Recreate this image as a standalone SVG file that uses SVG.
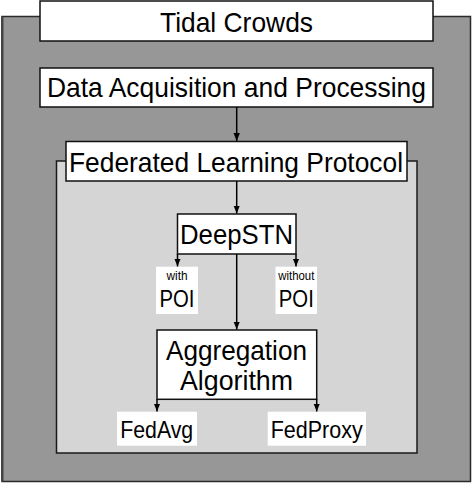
<svg xmlns="http://www.w3.org/2000/svg" width="474" height="488" viewBox="0 0 474 488">
<defs>
<style>
.box{fill:#fff;stroke:#111;stroke-width:1.5}
.lab{fill:#fff;stroke:none}
.t{font-family:"Liberation Sans",Arial,sans-serif;fill:#000;text-anchor:middle}
.big{font-size:28px}
.mid{font-size:24px}
.sm{font-size:12px}
.c{stroke:#000;stroke-width:1.5;fill:none}
</style>
<marker id="ah" viewBox="0 0 8 8" refX="8" refY="4" markerWidth="8" markerHeight="8" markerUnits="userSpaceOnUse" orient="auto">
<path d="M0,0.8 L8,4 L0,7.2 Z" fill="#000"/>
</marker>
</defs>
<rect width="474" height="488" fill="#fff"/>
<g id="outer">
<rect x="2" y="16.5" width="468.5" height="465" fill="#979797" stroke="#2a2a2a" stroke-width="1.5"/>
<rect x="1" y="17" width="2.5" height="464" fill="#444"/>
</g>
<g id="inner">
<rect x="56.5" y="161" width="360.5" height="292" fill="#d5d5d5" stroke="#1a1a1a" stroke-width="1.5"/>
</g>
<g id="tidal">
<rect class="box" x="40" y="1" width="393" height="40"/>
<text class="t big" x="236.5" y="32" textLength="153" lengthAdjust="spacingAndGlyphs">Tidal Crowds</text>
</g>
<g id="data">
<rect class="box" x="40" y="68" width="393" height="39"/>
<text class="t big" x="236.5" y="97" textLength="379" lengthAdjust="spacingAndGlyphs">Data Acquisition and Processing</text>
</g>
<g id="federated">
<rect class="box" x="66" y="141.5" width="341" height="39.5"/>
<text class="t big" x="236" y="172" textLength="334" lengthAdjust="spacingAndGlyphs">Federated Learning Protocol</text>
</g>
<g id="deepstn">
<rect class="box" x="177.5" y="214" width="118.5" height="40"/>
<text class="t big" x="236.5" y="244" textLength="113" lengthAdjust="spacingAndGlyphs">DeepSTN</text>
</g>
<g id="withpoi">
<rect class="lab" x="156" y="266.7" width="42" height="47.3"/>
<text class="t sm" x="177" y="280" textLength="21" lengthAdjust="spacingAndGlyphs">with</text>
<text class="t mid" x="177" y="306.7" textLength="35" lengthAdjust="spacingAndGlyphs">POI</text>
</g>
<g id="withoutpoi">
<rect class="lab" x="275.5" y="266.7" width="41.5" height="47.3"/>
<text class="t sm" x="296.3" y="280" textLength="36" lengthAdjust="spacingAndGlyphs">without</text>
<text class="t mid" x="296.3" y="306.7" textLength="35" lengthAdjust="spacingAndGlyphs">POI</text>
</g>
<g id="aggregation">
<rect class="box" x="157" y="330" width="159.7" height="69.3"/>
<text class="t big" x="236.5" y="360" textLength="141" lengthAdjust="spacingAndGlyphs">Aggregation</text>
<text class="t big" x="236.5" y="390" textLength="113" lengthAdjust="spacingAndGlyphs">Algorithm</text>
</g>
<g id="fedavg">
<rect class="lab" x="117" y="411.7" width="80" height="34"/>
<text class="t mid" x="156.7" y="438.3" textLength="73" lengthAdjust="spacingAndGlyphs">FedAvg</text>
</g>
<g id="fedproxy">
<rect class="lab" x="267.7" y="411.7" width="98.3" height="34"/>
<text class="t mid" x="316.7" y="438.3" textLength="92" lengthAdjust="spacingAndGlyphs">FedProxy</text>
</g>
<g id="connectors">
<line class="c" x1="236.7" y1="107" x2="236.7" y2="141" marker-end="url(#ah)"/>
<line class="c" x1="236.7" y1="181" x2="236.7" y2="213.5" marker-end="url(#ah)"/>
<line class="c" x1="177.5" y1="254" x2="177.5" y2="266.5" marker-end="url(#ah)"/>
<line class="c" x1="296" y1="254" x2="296" y2="266.5" marker-end="url(#ah)"/>
<line class="c" x1="236.7" y1="254" x2="236.7" y2="329.5" marker-end="url(#ah)"/>
<line class="c" x1="157" y1="399.3" x2="157" y2="411.5" marker-end="url(#ah)"/>
<line class="c" x1="316.7" y1="399.3" x2="316.7" y2="411.5" marker-end="url(#ah)"/>
</g>
</svg>
